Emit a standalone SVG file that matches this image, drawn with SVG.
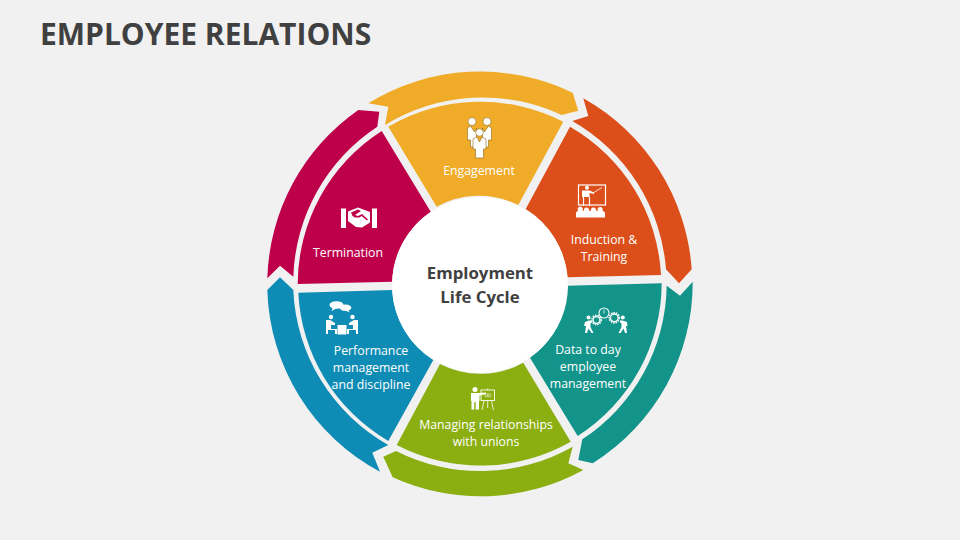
<svg xmlns="http://www.w3.org/2000/svg" width="960" height="540" viewBox="0 0 960 540">
<style>
.t{font-family:"Open Sans","Liberation Sans",sans-serif;font-size:12.300px;font-weight:500;fill:#fff;text-anchor:middle}
.c{font-family:"Open Sans","Liberation Sans",sans-serif;font-size:16.800px;font-weight:700;fill:#404040;text-anchor:middle}
.w{fill:#fff}
.n{fill:none;stroke:#fff}
</style>
<rect width="960" height="540" fill="#f1f1f1"/>
<text x="40" y="45" font-family="'Open Sans','Liberation Sans',sans-serif" font-size="30" font-weight="700" fill="#404040">EMPLOYEE RELATIONS</text>
<g id="connectors">
<path fill="#f0ac29" d="M368.300 103.300L388.300 106.700L385 125A187 187 0 0 1 561.700 115L578.300 110.700L572.700 92.700A213 213 0 0 0 368.300 103.300Z"/>
<path fill="#dc4f1a" d="M583.300 98.300A213 213 0 0 1 691.700 269.300L679 283.300L666 269.300A187 187 0 0 0 572.300 121L588.300 116Z"/>
<path fill="#12948a" d="M692.700 281.700L680 295.700L666.700 285.700A187 187 0 0 1 582.300 439.300L578.300 460L592.700 463.300A213 213 0 0 0 692.700 281.700Z"/>
<path fill="#8bae10" d="M583.300 470L568.300 463.300L572.700 446.700A187 187 0 0 1 396 451L383.300 456.700L392.700 477.300A213 213 0 0 0 583.300 470Z"/>
<path fill="#0f8cb5" d="M380 471.700L372.300 452.700L388.300 445A187 187 0 0 1 293.300 290L280 277.300L267.300 290A213 213 0 0 0 380 471.700Z"/>
<path fill="#be004b" d="M267.300 278.300L280 265.700L293.300 276.700A187 187 0 0 1 377.300 126.700L379.300 111.700L358.300 110A213 213 0 0 0 267.300 278.300Z"/>
</g>
<g id="engagement">
<path fill="#f0ac29" d="M388.300 126.700A182 182 0 0 1 563.300 121.700L518.300 205A88 88 0 0 0 436.700 206.700Z"/>
<g transform="translate(479.500 138)" stroke="#8a6a14" stroke-width=".6" fill="#fff">
<circle cx="-7.500" cy="-16.500" r="4"/><circle cx="7.500" cy="-16.500" r="4"/>
<path d="M-12 -10L-9 -12L-5 -6L-3 -10L-3 3L-5 3L-5 9L-9 9L-9 2L-12 2Z"/>
<path d="M12 -10L9 -12L5 -6L3 -10L3 3L5 3L5 9L9 9L9 2L12 2Z"/>
<circle cx="0" cy="-5.500" r="3.800"/>
<path d="M-6.500 1L-2.500 -1L0 4L2.500 -1L6.500 1L6.500 11L4 11L4 20L-4 20L-4 11L-6.500 11Z"/>
</g>
<text class="t" x="479" y="175">Engagement</text>
</g>
<g id="induction">
<path fill="#dc4f1a" d="M570 126.700A182 182 0 0 1 661 275L567.300 277.300A88 88 0 0 0 525.700 209Z"/>
<rect class="n" x="578.500" y="185" width="27" height="20" stroke-width="1.200"/>
<circle class="w" cx="587" cy="187.800" r="2"/>
<path class="w" d="M582 190.500H589.500L594 192.500L594 194L589.500 193V197H582Z"/>
<path class="n" d="M593 193L602 187.500" stroke-width=".8"/>
<path class="n" d="M583.500 197V206M589.500 197V206" stroke-width="1.200"/>
<path class="w" d="M576 217.500V212.500L578 210.500A2.600 2.600 0 1 1 582.500 210.500L584 211A2.600 2.600 0 1 1 589 210.500L591 211A2.600 2.600 0 1 1 596 210.500L598 211A2.600 2.600 0 1 1 602.500 210.500L605 212.500V217.500Z"/>
<text class="t"><tspan x="604" y="244">Induction &amp;</tspan><tspan x="604" y="261">Training</tspan></text>
</g>
<g id="data">
<path fill="#12948a" d="M567.300 285.700L661.700 283.300A182 182 0 0 1 577.700 436L530 357.700A88 88 0 0 0 567.300 285.700Z"/>
<circle class="n" cx="604" cy="313" r="5" stroke-width="1.100"/>
<path class="n" d="M604 309.500V313.500" stroke-width=".8"/>
<circle class="n" cx="596.500" cy="320" r="3.400" stroke-width="1.300"/>
<circle class="n" cx="596.500" cy="320" r="4.700" stroke-width="1.500" stroke-dasharray="1.500 1"/>
<circle class="n" cx="614.300" cy="317.800" r="3.800" stroke-width="1.300"/>
<circle class="n" cx="614.300" cy="317.800" r="5.100" stroke-width="1.500" stroke-dasharray="1.500 1"/>
<circle class="w" cx="588.500" cy="317.500" r="2"/><circle class="w" cx="622.800" cy="317.500" r="2"/>
<path class="w" d="M585 322L589 320.500L592 320.500L592 322.300L590.500 323.500L590.500 327L593.500 333H591.500L588.500 328.500L587 333H585L586 326L584 326Z"/>
<path class="w" d="M627 322L622.500 320.500L620 320.500L620 322.300L621.500 323.500L621.500 327L618.500 333H620.500L623.500 328.500L625 333H627L626 326L627.500 326Z"/>
<text class="t"><tspan x="588" y="354">Data to day</tspan><tspan x="588" y="371">employee</tspan><tspan x="588" y="388">management</tspan></text>
</g>
<g id="unions">
<path fill="#8bae10" d="M570.700 441.700A182 182 0 0 1 396.700 445L440 364A88 88 0 0 0 523.300 362.700Z"/>
<circle class="w" cx="475" cy="389.500" r="2.500"/>
<path class="w" d="M471 393H479L486 392.500V394L479.500 395.500V401H479V409.500H475.700V402H474.300V409.500H471.500V401H471Z"/>
<rect class="n" x="481" y="390" width="13.500" height="10.500" stroke-width=".9"/>
<circle class="n" cx="486.300" cy="395.300" r="1.500" stroke-width=".6"/><circle class="n" cx="489.300" cy="395.300" r="1.500" stroke-width=".6"/>
<path class="n" d="M484 401L482 410M491.500 401L493.500 410M487.700 401V408M487.700 390V388.500" stroke-width=".8"/>
<text class="t"><tspan x="486" y="429">Managing relationships</tspan><tspan x="486" y="446">with unions</tspan></text>
</g>
<g id="performance">
<path fill="#0f8cb5" d="M298.300 292.700L392.300 290A88 88 0 0 0 433.300 360L388.300 441A182 182 0 0 1 298.300 292.700Z"/>
<ellipse class="w" cx="336.500" cy="305" rx="7" ry="3.800"/><path class="w" d="M333 307L331.500 311L337 308Z"/>
<ellipse class="w" cx="345.500" cy="307.800" rx="5.800" ry="3.200"/><path class="w" d="M348 310L350 312.500L345 310.500Z"/>
<circle class="w" cx="331" cy="317" r="2.200"/><circle class="w" cx="352.500" cy="317" r="2.200"/>
<path class="w" d="M326 334V320H330L335 323V325H331V329H337V334H335V330H328V334Z"/>
<path class="w" d="M358 334V320H354L349 323V325H353V329H347V334H349V330H356V334Z"/>
<rect class="w" x="337.500" y="325" width="9" height="9.500"/>
<text class="t"><tspan x="371" y="355">Performance</tspan><tspan x="371" y="372">management</tspan><tspan x="371" y="389">and discipline</tspan></text>
</g>
<g id="termination">
<path fill="#be004b" d="M297.700 284L392.300 281.700A88 88 0 0 1 430.700 211.700L381.700 131A182 182 0 0 0 297.700 284Z"/>
<rect class="w" x="341" y="208.500" width="5" height="19.500"/><rect class="w" x="372" y="208.500" width="5" height="19.500"/>
<path class="w" d="M348 211.500L358 207.500L370 212V222.500L362 227.500L356 227L348 221Z"/>
<path fill="#be004b" d="M351 212.500L358 209.500L361 211L355 215L358 216L362 214L368 219.500L367 220.500L361.500 216L359.500 217.500L355 217.500L352.500 216Z"/>
<text class="t" x="348" y="257">Termination</text>
</g>
<g id="center">
<circle cx="480" cy="285" r="88" fill="#fff"/>
<text class="c"><tspan x="480" y="279">Employment</tspan><tspan x="480" y="303">Life Cycle</tspan></text>
</g>
</svg>
